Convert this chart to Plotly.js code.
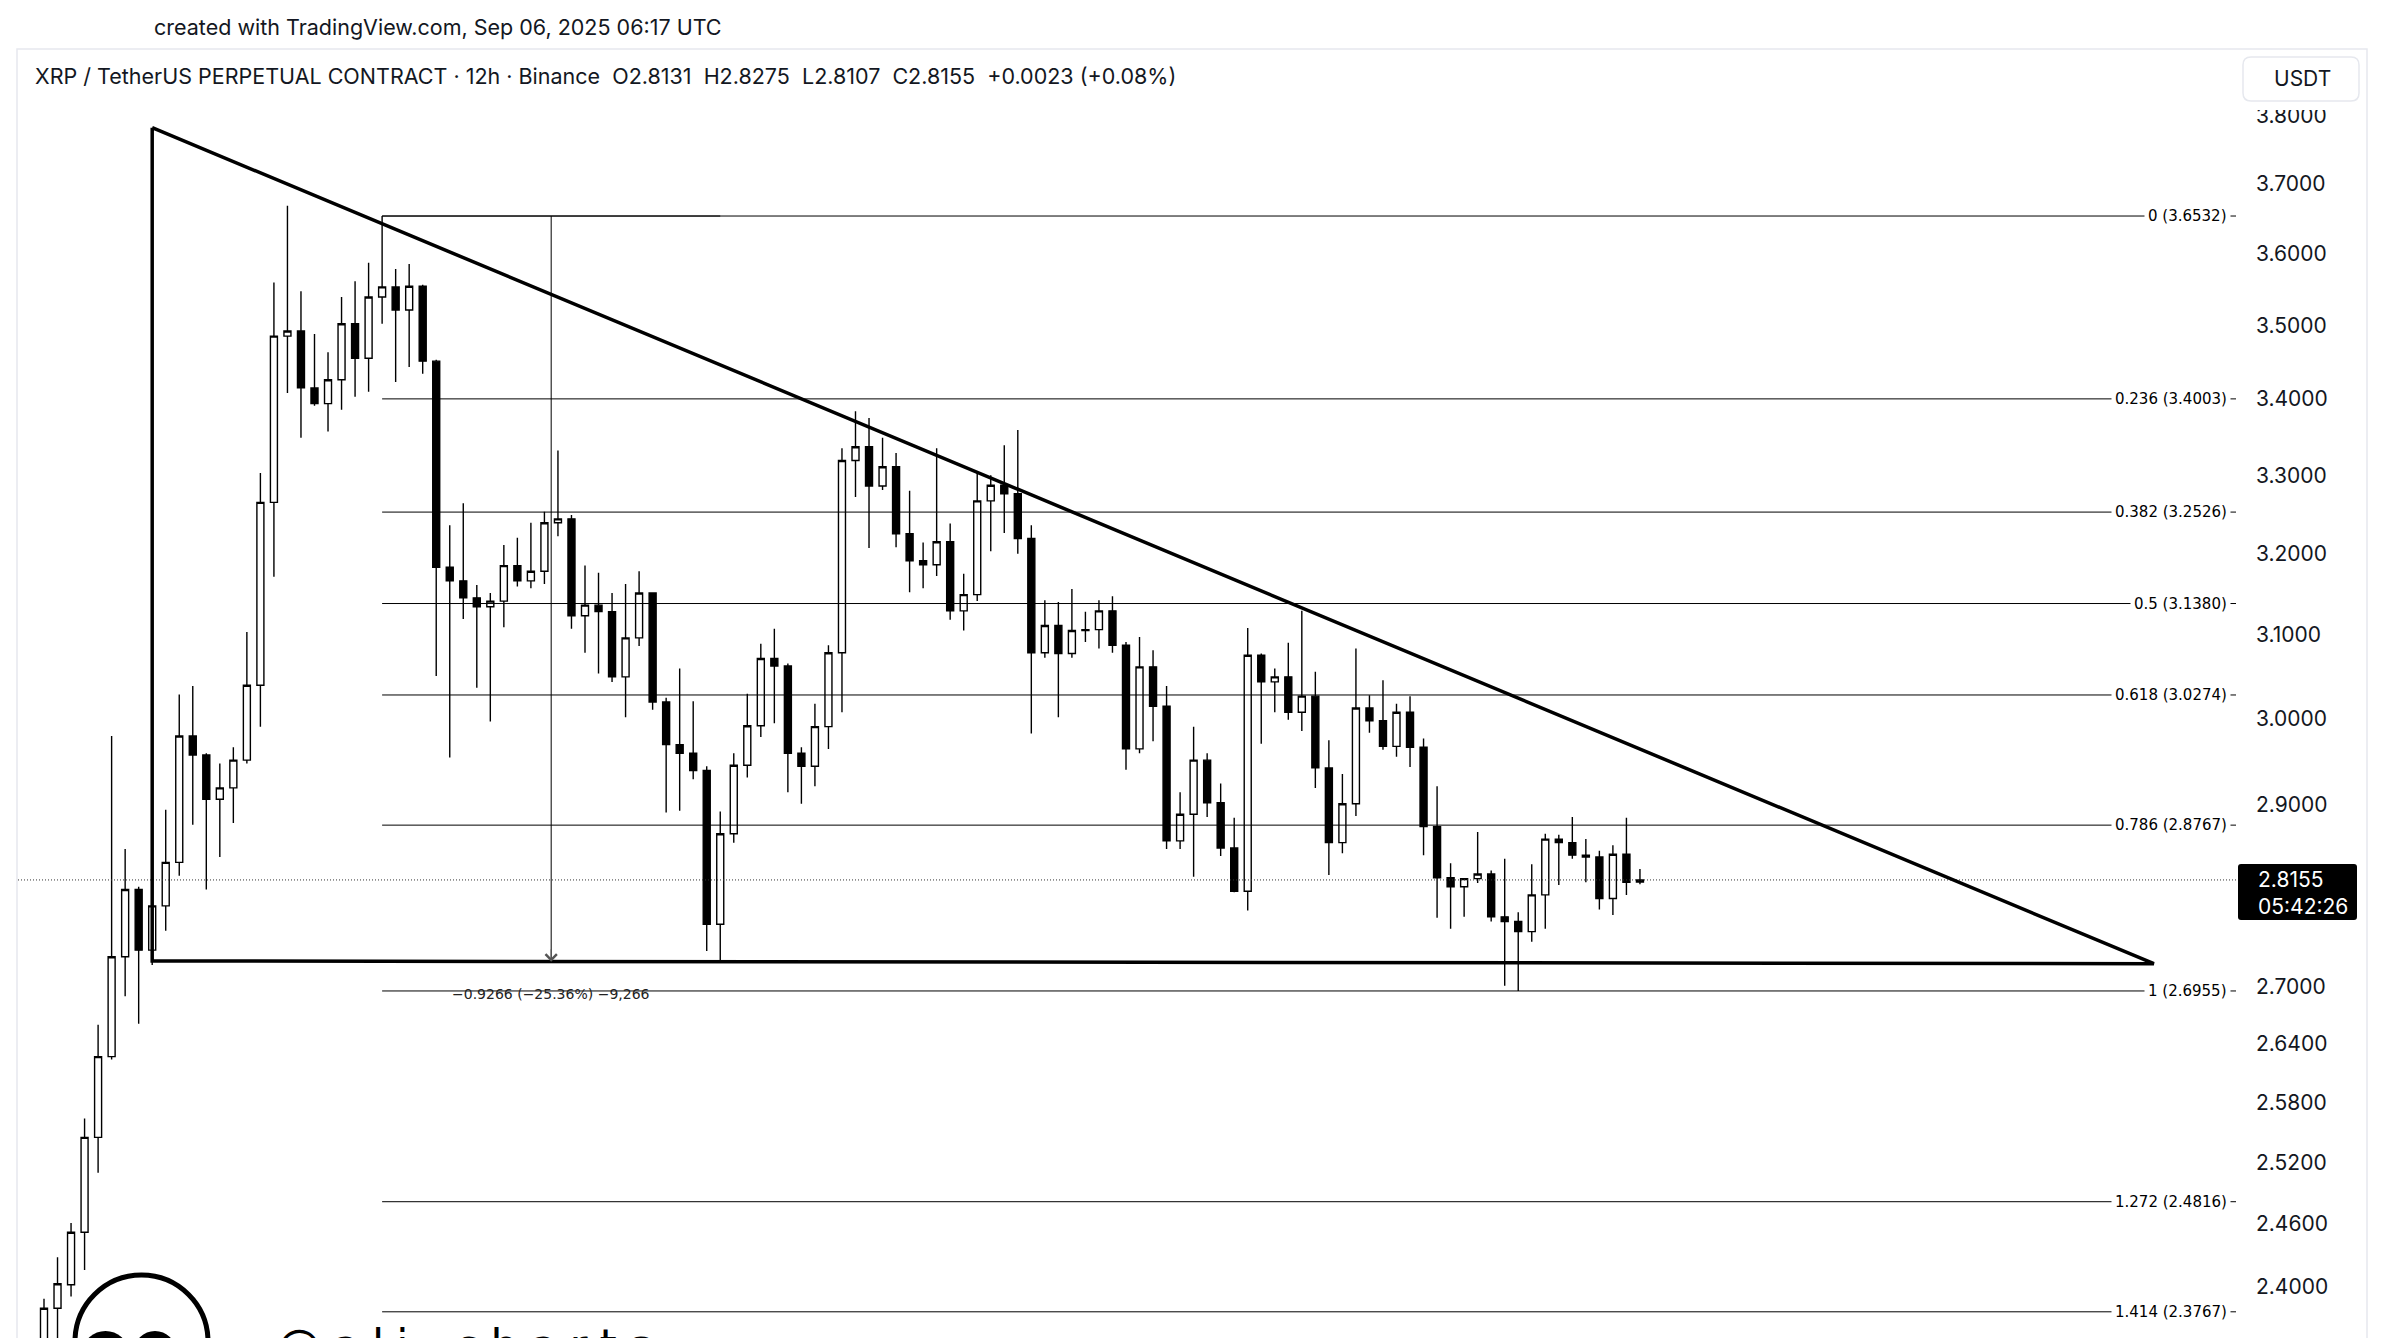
<!DOCTYPE html>
<html>
<head>
<meta charset="utf-8">
<script src="https://cdn.plot.ly/plotly-3.0.1.min.js"></script>
<style>
html,body{margin:0;padding:0;background:#fff;overflow:hidden;}
#chart{width:2384px;height:1338px;}
.annotation[data-index="15"] .annotation-text{letter-spacing:12px;}
</style>
</head>
<body>
<div id="chart"></div>
<script>
// ---- DATA ----
const firstCandle = Date.UTC(2025, 6, 9, 0, 0); // 12h candles, XRPUSDT.P Binance
const candleOpen = [2.330,2.380,2.402,2.452,2.545,2.627,2.732,2.805,2.739,2.787,
2.835,2.979,2.957,2.906,2.919,2.951,3.039,3.265,3.485,3.492,
3.415,3.394,3.426,3.502,3.455,3.539,3.553,3.521,3.554,3.451,
3.183,3.166,3.145,3.134,3.141,3.185,3.166,3.178,3.239,3.244,
3.123,3.136,3.128,3.049,3.096,3.151,3.019,2.969,2.959,2.939,
2.767,2.867,2.945,2.991,3.071,3.062,2.959,2.944,2.990,3.078,
3.319,3.337,3.286,3.311,3.225,3.191,3.186,3.215,3.129,3.149,
3.267,3.287,3.276,3.219,3.078,3.111,3.077,3.105,3.106,3.129,
3.087,2.964,3.061,3.014,2.859,2.889,2.951,2.902,2.851,2.803,
3.075,3.043,3.049,3.007,3.026,2.942,2.857,2.901,3.012,2.997,
2.967,3.007,2.966,2.875,2.818,2.808,2.817,2.822,2.775,2.770,
2.759,2.799,2.861,2.857,2.843,2.841,2.795,2.844,2.8131];
const candleHigh = [2.389,2.428,2.461,2.564,2.660,2.979,2.850,2.808,2.788,2.894,
3.028,3.038,2.959,2.947,2.966,3.103,3.303,3.559,3.668,3.547,
3.488,3.463,3.539,3.561,3.587,3.6532,3.578,3.585,3.556,3.453,
3.236,3.264,3.161,3.151,3.211,3.220,3.239,3.253,3.332,3.249,
3.185,3.176,3.151,3.162,3.178,3.152,3.024,3.059,3.020,2.944,
2.892,2.959,3.029,3.089,3.107,3.065,2.966,3.017,3.087,3.335,
3.384,3.375,3.349,3.329,3.280,3.214,3.335,3.238,3.175,3.303,
3.300,3.339,3.359,3.236,3.142,3.140,3.156,3.128,3.142,3.147,
3.091,3.097,3.081,3.038,2.914,2.990,2.959,2.924,2.885,3.108,
3.077,3.059,3.090,3.129,3.055,2.974,2.935,3.083,3.027,3.045,
3.017,3.026,2.976,2.921,2.834,2.817,2.869,2.826,2.839,2.780,
2.833,2.867,2.866,2.886,2.861,2.848,2.854,2.885,2.8275];
const candleLow = [2.322,2.345,2.391,2.416,2.510,2.624,2.690,2.661,2.723,2.760,
2.820,2.877,2.805,2.841,2.879,2.947,2.990,3.171,3.408,3.349,
3.391,3.357,3.386,3.403,3.410,3.502,3.423,3.443,3.434,3.050,
2.954,3.119,3.036,2.996,3.109,3.159,3.157,3.162,3.222,3.107,
3.078,3.053,3.043,3.001,3.086,3.010,2.891,2.893,2.929,2.738,
2.7266,2.857,2.931,2.978,2.994,2.914,2.901,2.921,2.964,3.007,
3.272,3.207,3.281,3.208,3.152,3.157,3.172,3.118,3.105,3.141,
3.203,3.226,3.200,2.982,3.072,3.001,3.072,3.091,3.083,3.078,
2.940,2.959,2.973,2.850,2.850,2.819,2.886,2.842,2.802,2.782,
2.970,3.007,2.998,2.985,2.919,2.821,2.845,2.887,2.983,2.963,
2.955,2.943,2.843,2.774,2.762,2.775,2.812,2.770,2.701,2.6955,
2.748,2.762,2.810,2.839,2.813,2.783,2.777,2.799,2.8107];
const candleClose = [2.380,2.403,2.452,2.545,2.627,2.732,2.805,2.739,2.787,2.835,
2.979,2.957,2.906,2.919,2.951,3.039,3.265,3.485,3.492,3.415,
3.394,3.426,3.502,3.455,3.539,3.553,3.521,3.554,3.451,3.183,
3.166,3.145,3.134,3.141,3.185,3.166,3.178,3.239,3.244,3.123,
3.136,3.128,3.049,3.096,3.151,3.019,2.969,2.959,2.939,2.767,
2.867,2.945,2.991,3.071,3.062,2.959,2.944,2.990,3.078,3.319,
3.337,3.286,3.311,3.225,3.191,3.186,3.215,3.129,3.149,3.267,
3.287,3.276,3.219,3.078,3.111,3.077,3.105,3.106,3.129,3.087,
2.964,3.061,3.014,2.859,2.889,2.951,2.902,2.851,2.803,3.075,
3.043,3.049,3.007,3.026,2.942,2.857,2.901,3.012,2.997,2.967,
3.007,2.966,2.875,2.818,2.808,2.817,2.822,2.775,2.770,2.759,
2.799,2.861,2.857,2.843,2.841,2.795,2.844,2.813,2.8155];

const priceTicks = [3.8,3.7,3.6,3.5,3.4,3.3,3.2,3.1,3.0,2.9,2.7,2.64,2.58,2.52,2.46,2.40];
const fibRatios = ['0','0.236','0.382','0.5','0.618','0.786','1','1.272','1.414'];
const fibPrices = [3.6532,3.4003,3.2526,3.1380,3.0274,2.8767,2.6955,2.4816,2.3767];
const fibStartCandle = 25;
const lastPrice = 2.8155;
const countdown = '05:42:26';
const triangleCandles = [8, 8, 156, 8];
const trianglePrices = [3.782, 2.7275, 2.7245, 3.782];
const measureCandles = [25, 50];
const measurePrices = [3.6532, 2.7266];
const measureText = '\u22120.9266 (\u221225.36%) \u22129,266';
const headerText = 'created with TradingView.com, Sep 06, 2025 06:17 UTC';
const titleText = 'XRP / TetherUS PERPETUAL CONTRACT \u00b7 12h \u00b7 Binance\u00a0\u00a0O2.8131\u00a0\u00a0H2.8275\u00a0\u00a0L2.8107\u00a0\u00a0C2.8155\u00a0\u00a0+0.0023 (+0.08%)';
const watermark = '@ali_charts';

// ---- helpers ----
const STEP = 12 * 3600 * 1000;
function idxDate(i) { return new Date(firstCandle + i * STEP).toISOString().replace('T', ' ').slice(0, 19); }
const W = 2384, H = 1338, ML = 18, MR = 148, MT = 49, MB = 0;
const PW = W - ML - MR, PH = H - MT - MB;
const X = px => (px - ML) / PW;
const Y = py => (H - MB - py) / PH;
const xRange = [idxDate(-1.922), idxDate(162.07)];
const yRange = [Math.log10(2.3524), Math.log10(3.9006)];

function rr(x0, y0, x1, y1, r) {
  const a = v => X(v).toFixed(6), b = v => Y(v).toFixed(6);
  return `M${a(x0 + r)},${b(y0)} L${a(x1 - r)},${b(y0)} Q${a(x1)},${b(y0)} ${a(x1)},${b(y0 + r)} ` +
         `L${a(x1)},${b(y1 - r)} Q${a(x1)},${b(y1)} ${a(x1 - r)},${b(y1)} L${a(x0 + r)},${b(y1)} ` +
         `Q${a(x0)},${b(y1)} ${a(x0)},${b(y1 - r)} L${a(x0)},${b(y0 + r)} Q${a(x0)},${b(y0)} ${a(x0 + r)},${b(y0)} Z`;
}

const dates = candleOpen.map((_, i) => idxDate(i));

// ---- traces ----
const candles = {
  type: 'candlestick', x: dates, open: candleOpen, high: candleHigh, low: candleLow, close: candleClose,
  increasing: {line: {color: '#000', width: 1.4}, fillcolor: '#fff'},
  decreasing: {line: {color: '#000', width: 1.4}, fillcolor: '#000'},
  whiskerwidth: 0, hoverinfo: 'skip', showlegend: false
};

const fx = [], fy = [];
fibPrices.forEach(p => { fx.push(idxDate(fibStartCandle), xRange[1], null); fy.push(p, p, null); });
const fibTrace = {type: 'scatter', mode: 'lines', x: fx, y: fy, line: {color: '#000', width: 1}, hoverinfo: 'skip', showlegend: false};

const priceLine = {type: 'scatter', mode: 'lines', x: [xRange[0], xRange[1]], y: [lastPrice, lastPrice],
  line: {color: '#333', width: 1, dash: '1px,2px'}, hoverinfo: 'skip', showlegend: false};

const mid = (measureCandles[0] + measureCandles[1]) / 2;
const measureTrace = {type: 'scatter', mode: 'lines',
  x: [idxDate(measureCandles[0]), idxDate(measureCandles[1]), null, idxDate(measureCandles[0]), idxDate(measureCandles[1]), null, idxDate(mid), idxDate(mid)],
  y: [measurePrices[0], measurePrices[0], null, measurePrices[1], measurePrices[1], null, measurePrices[0], measurePrices[1]],
  line: {color: '#000', width: 1}, hoverinfo: 'skip', showlegend: false};

const triTrace = {type: 'scatter', mode: 'lines', x: triangleCandles.map(idxDate), y: trianglePrices,
  line: {color: '#000', width: 3.5}, hoverinfo: 'skip', showlegend: false};

// ---- annotations ----
const ann = [];
ann.push({xref: 'paper', yref: 'paper', x: X(152), y: Y(27), xanchor: 'left', yanchor: 'middle', showarrow: false,
  text: headerText, font: {family: 'Inter', size: 21.5, color: '#131722'}});
ann.push({xref: 'paper', yref: 'paper', x: X(33), y: Y(76), xanchor: 'left', yanchor: 'middle', showarrow: false,
  text: titleText, font: {family: 'Inter', size: 21.5, color: '#131722'}});
fibPrices.forEach((p, i) => ann.push({xref: 'paper', yref: 'y', x: X(2231), y: Math.log10(p), xanchor: 'right', yanchor: 'middle',
  showarrow: false, text: fibRatios[i] + ' (' + p.toFixed(4) + ')', bgcolor: '#fff', borderpad: 3,
  font: {family: 'DejaVu Sans', size: 15, color: '#000'}}));
ann.push({xref: 'x', yref: 'y', x: idxDate(mid), y: Math.log10(measurePrices[1]), xanchor: 'center', yanchor: 'top', yshift: -22,
  showarrow: false, text: measureText, font: {family: 'DejaVu Sans', size: 14, color: '#222'}});
ann.push({xref: 'x', yref: 'y', x: idxDate(mid), y: Math.log10(measurePrices[1]), ax: 0, ay: -14, text: '',
  showarrow: true, arrowhead: 4, arrowsize: 2.2, arrowwidth: 1, arrowcolor: '#555', standoff: 0});
ann.push({xref: 'paper', yref: 'paper', x: X(2256), y: Y(893), xanchor: 'left', yanchor: 'middle', align: 'left', showarrow: false,
  text: lastPrice.toFixed(4) + '<br>' + countdown, font: {family: 'Inter', size: 21, color: '#fff'}});
ann.push({xref: 'paper', yref: 'paper', x: X(2302), y: Y(79), xanchor: 'center', yanchor: 'middle', showarrow: false,
  text: 'USDT', font: {family: 'Inter', size: 21, color: '#131722'}});
ann.push({xref: 'paper', yref: 'paper', x: X(341), y: Y(1318), xanchor: 'left', yanchor: 'top', showarrow: false,
  text: watermark, font: {family: 'DejaVu Sans', size: 44, color: '#000'}});

// ---- shapes ----
const shapes = [
  {type: 'rect', xref: 'paper', yref: 'paper', x0: X(17), x1: X(2367), y0: Y(1400), y1: Y(49), line: {color: '#e6e8ee', width: 1.5}},
  {type: 'rect', xref: 'paper', yref: 'paper', x0: X(2237), x1: X(2366), y0: Y(110), y1: Y(50), fillcolor: '#fff', line: {width: 0}},
  {type: 'path', xref: 'paper', yref: 'paper', path: rr(2243, 57, 2359, 101, 8), fillcolor: '#fff', line: {color: '#e6e8ee', width: 1.5}},
  {type: 'path', xref: 'paper', yref: 'paper', path: rr(2238, 864, 2357, 920, 3), fillcolor: '#000', line: {width: 0}},
  {type: 'circle', xref: 'paper', yref: 'paper', x0: X(75), x1: X(208), y0: Y(1408), y1: Y(1275), line: {color: '#000', width: 5}},
  {type: 'circle', xref: 'paper', yref: 'paper', x0: X(83), x1: X(128), y0: Y(1372), y1: Y(1331), fillcolor: '#000', line: {width: 0}},
  {type: 'circle', xref: 'paper', yref: 'paper', x0: X(134), x1: X(176), y0: Y(1372), y1: Y(1331), fillcolor: '#000', line: {width: 0}}
];

const layout = {
  width: W, height: H, margin: {l: ML, r: MR, t: MT, b: MB, pad: 0},
  paper_bgcolor: '#fff', plot_bgcolor: '#fff', showlegend: false, boxgap: 0.26,
  xaxis: {type: 'date', range: xRange, visible: false, showgrid: false, zeroline: false, rangeslider: {visible: false}, fixedrange: true},
  yaxis: {type: 'log', range: yRange, side: 'right', tickmode: 'array', tickvals: priceTicks,
    ticktext: priceTicks.map(v => v.toFixed(4)), showgrid: false, zeroline: false, showline: false, ticks: '',
    ticklabelstandoff: 19, automargin: false, fixedrange: true,
    tickfont: {family: 'Inter', size: 21, color: '#131722'}},
  annotations: ann, shapes: shapes
};

Plotly.newPlot('chart', [candles, fibTrace, priceLine, measureTrace, triTrace], layout, {staticPlot: true, displayModeBar: false});
</script>
</body>
</html>
